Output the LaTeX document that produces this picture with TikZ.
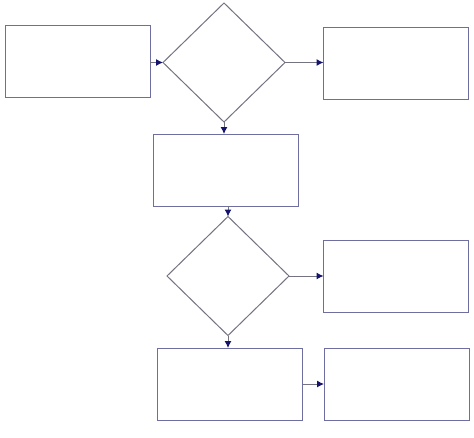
\documentclass[tikz,border=0pt]{standalone}
\usetikzlibrary{shapes.geometric,arrows.meta}
\definecolor{boxline}{RGB}{110,110,160}
\definecolor{conn}{RGB}{115,115,130}
\definecolor{tipc}{RGB}{20,20,110}
\begin{document}
\begin{tikzpicture}[x=1pt,y=-1pt,
  rectbox/.style={draw=boxline,line width=1pt,minimum width=145pt,minimum height=72pt,inner sep=0pt,outer sep=0pt},
  decide/.style={draw=conn,line width=1pt,diamond,minimum width=122pt,minimum height=119pt,inner sep=0pt,outer sep=0pt},
  link/.style={draw=conn,line width=1pt,-{Latex[length=7pt,width=7pt,color=tipc,fill=tipc]}}]
\useasboundingbox[fill=white] (0,0) rectangle (474,437);
\node[rectbox] (b1) at (77.5,61.5) {};
\node[decide] (d1) at (224,62.5) {};
\node[rectbox] (r1) at (396,63.5) {};
\node[rectbox] (b2) at (226,170) {};
\node[decide] (d2) at (228,276) {};
\node[rectbox] (r2) at (396,276) {};
\node[rectbox] (b3) at (230,384) {};
\node[rectbox] (b4) at (396.5,384) {};
\draw[link] (b1.east |- d1.west) -- (d1.west);
\draw[link] (d1.east) -- (r1.west |- d1.east);
\draw[link] (d1.south) -- (d1.south |- b2.north);
\draw[link] (d2.north |- b2.south) -- (d2.north);
\draw[link] (d2.east) -- (r2.west |- d2.east);
\draw[link] (d2.south) -- (d2.south |- b3.north);
\draw[link] (b3.east) -- (b4.west);
\end{tikzpicture}
\end{document}
